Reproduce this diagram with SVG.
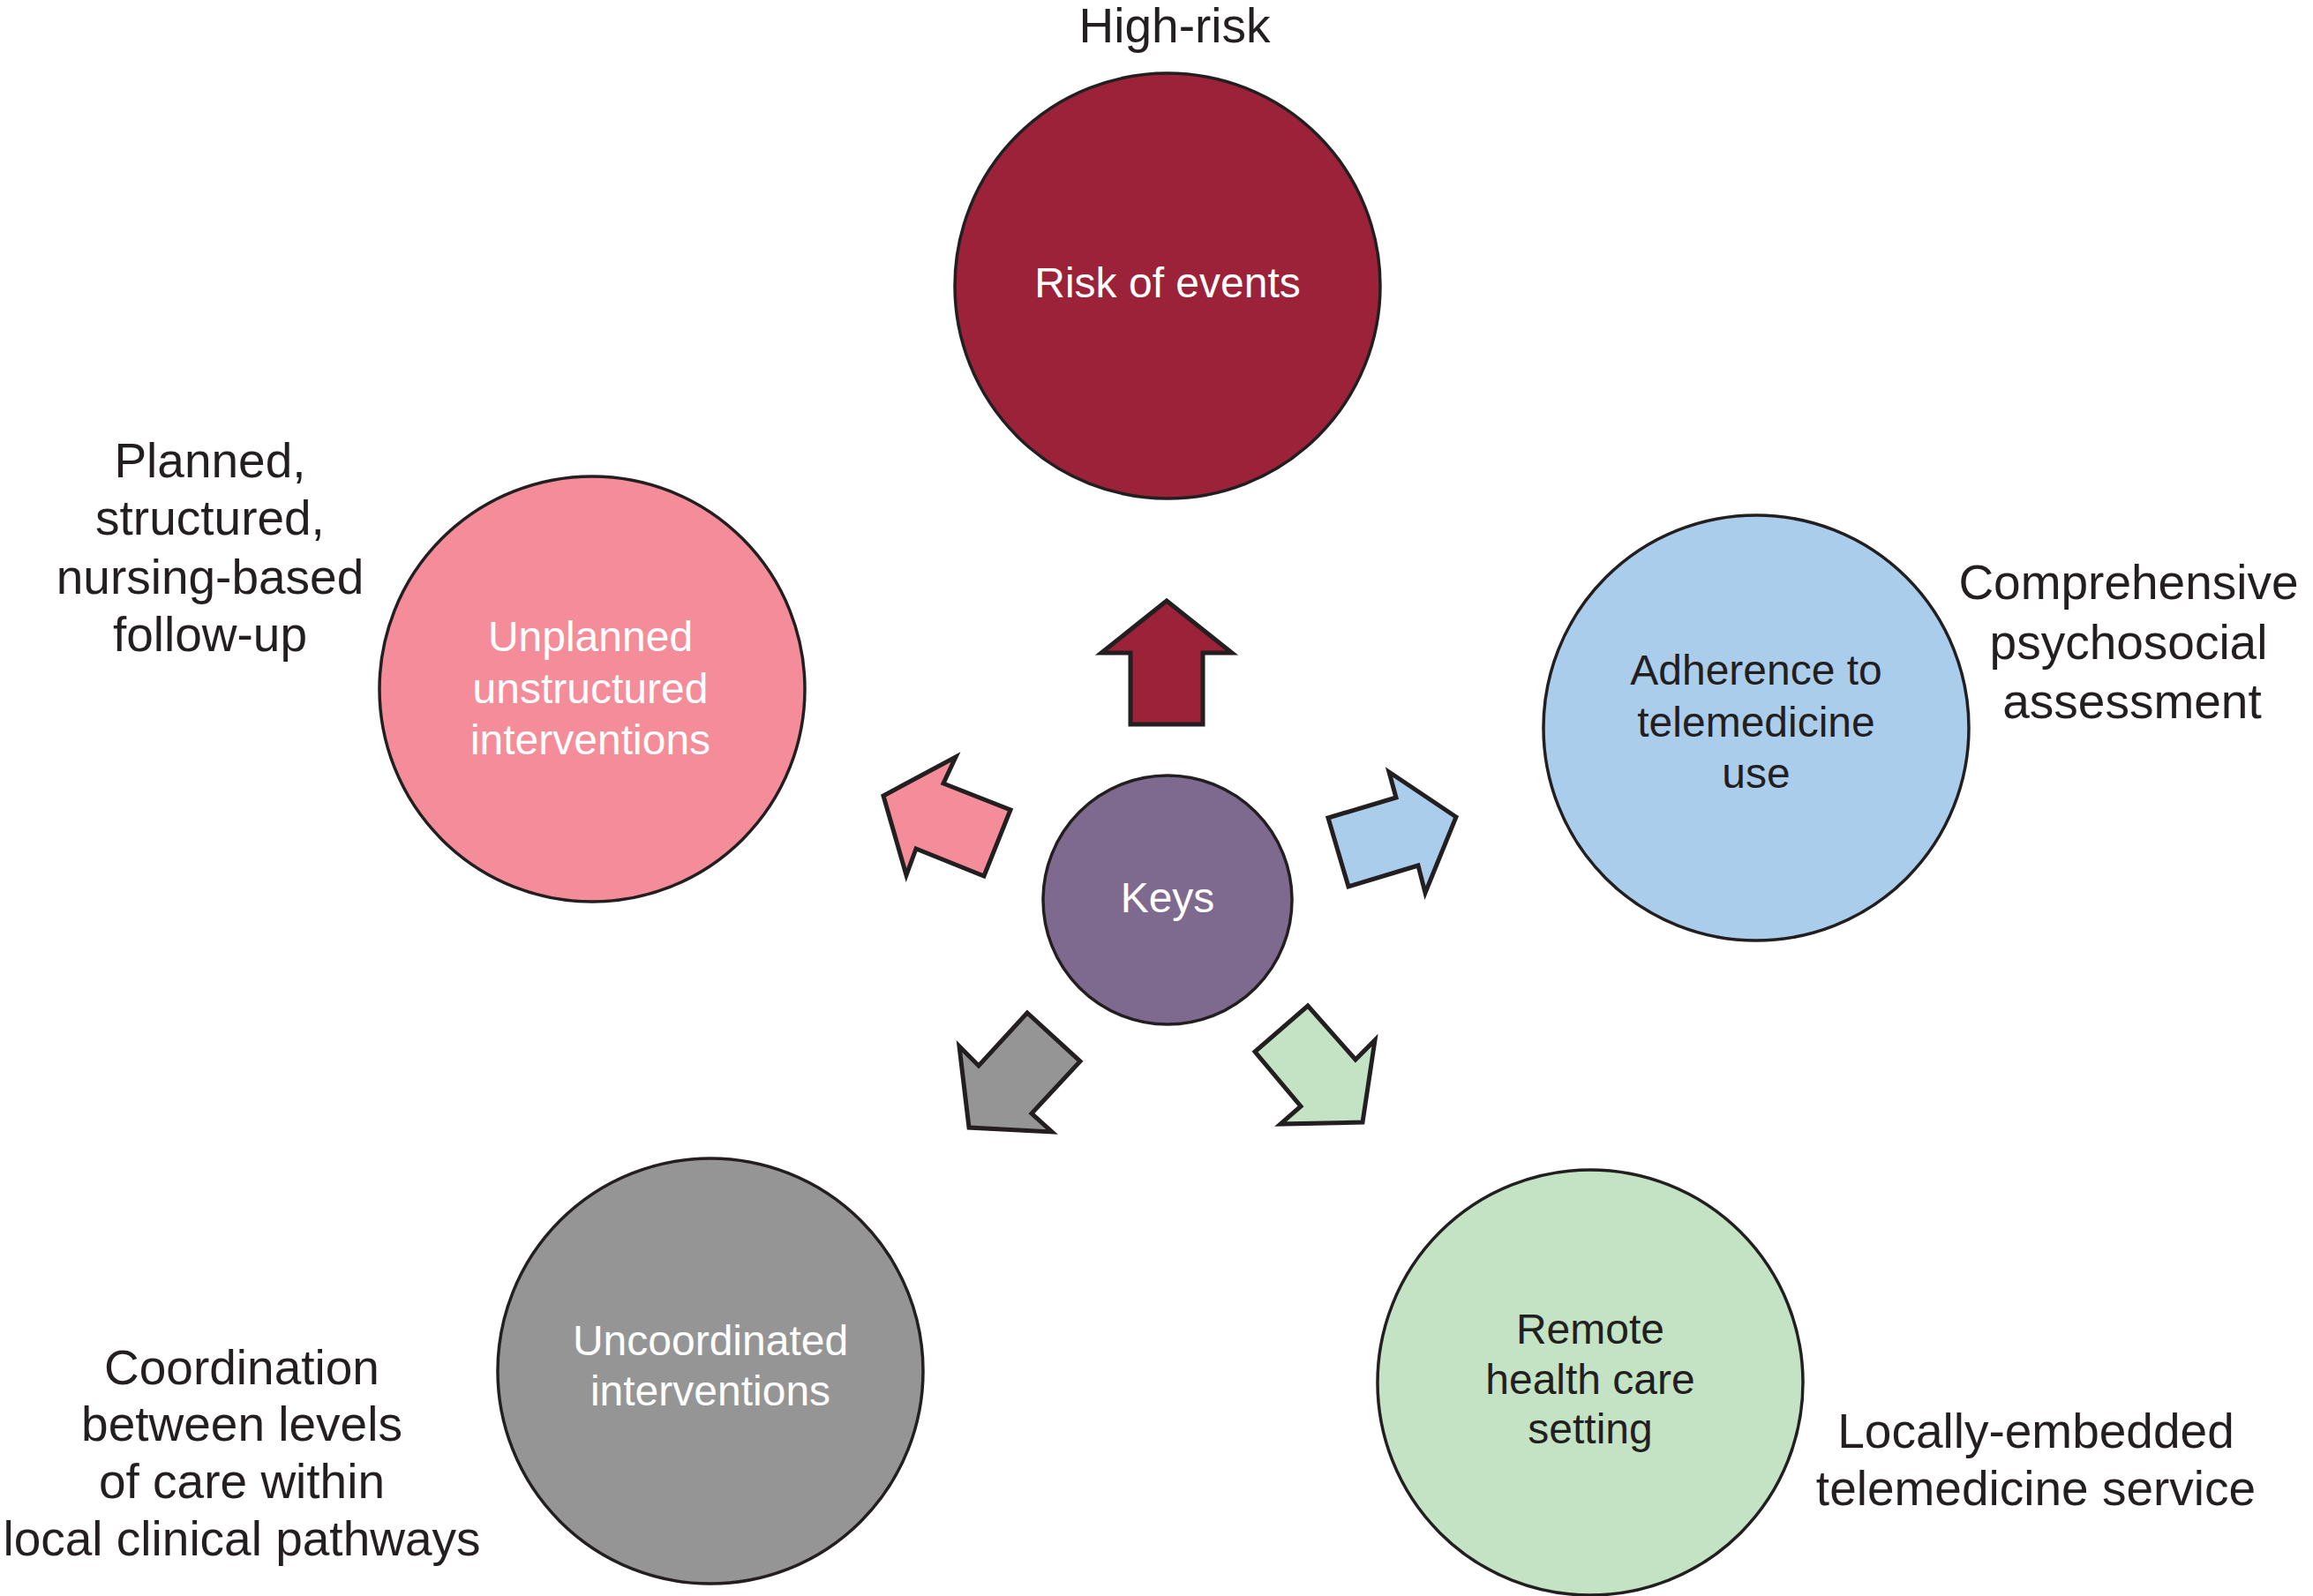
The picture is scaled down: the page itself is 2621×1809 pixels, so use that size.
<svg xmlns="http://www.w3.org/2000/svg" width="2621" height="1809" viewBox="0 0 2621 1809">
<style>
.c{stroke:#231f20;stroke-width:3.5}
.a{stroke:#231f20;stroke-width:5;stroke-linejoin:miter}
.t{font-family:"Liberation Sans",Arial,Helvetica,sans-serif;text-anchor:middle}
.in{font-size:48px}
.out{font-size:55px;fill:#231f20}
.w{fill:#ffffff}
.d{fill:#231f20}
</style>
<rect width="2621" height="1809" fill="#ffffff"/>
<g id="connectors">
<polygon class="a" fill="#9b2239" points="1322,681 1396,740 1363,740 1363,821 1281,821 1281,740 1248,740"/>
<polygon class="a" fill="#f48d99" points="1001,902 1083,858 1069,888 1145,918 1115,993 1038,962 1027,992"/>
<polygon class="a" fill="#abcdec" points="1650,926 1574,875 1582,904 1505,927 1528,1005 1607,981 1615,1012"/>
<polygon class="a" fill="#959595" points="1098,1278 1087,1186 1109,1208 1164,1148 1224,1203 1169,1262 1192,1283"/>
<polygon class="a" fill="#c3e3c4" points="1544,1272 1558,1179 1536,1201 1482,1140 1422,1192 1474,1254 1451,1274"/>
</g>
<g id="node-keys">
<circle class="c" cx="1323" cy="1020" r="141" fill="#7f6a8f"/>
<text class="t in w" x="1323" y="1034">Keys</text>
</g>
<g id="node-risk">
<text class="t out" x="1331" y="48">High-risk</text>
<circle class="c" cx="1323" cy="324" r="241" fill="#9b2239"/>
<text class="t in w" x="1323" y="337">Risk of events</text>
</g>
<g id="node-unplanned">
<text class="t out" x="238" y="541">Planned,</text>
<text class="t out" x="238" y="606">structured,</text>
<text class="t out" x="238" y="673">nursing-based</text>
<text class="t out" x="238" y="738">follow-up</text>
<circle class="c" cx="671" cy="781" r="241" fill="#f48d99"/>
<text class="t in w" x="669" y="738">Unplanned</text>
<text class="t in w" x="669" y="797">unstructured</text>
<text class="t in w" x="669" y="855">interventions</text>
</g>
<g id="node-adherence">
<circle class="c" cx="1990" cy="825" r="241" fill="#abcdec"/>
<text class="t in d" x="1990" y="776">Adherence to</text>
<text class="t in d" x="1990" y="835">telemedicine</text>
<text class="t in d" x="1990" y="893">use</text>
<text class="t out" x="2412" y="679">Comprehensive</text>
<text class="t out" x="2412" y="747">psychosocial</text>
<text class="t out" x="2416" y="814">assessment</text>
</g>
<g id="node-uncoordinated">
<circle class="c" cx="805" cy="1554" r="241" fill="#959595"/>
<text class="t in w" x="805" y="1536">Uncoordinated</text>
<text class="t in w" x="805" y="1593">interventions</text>
<text class="t out" x="274" y="1569">Coordination</text>
<text class="t out" x="274" y="1633">between levels</text>
<text class="t out" x="274" y="1698">of care within</text>
<text class="t out" x="274" y="1763">local clinical pathways</text>
</g>
<g id="node-remote">
<circle class="c" cx="1802" cy="1567" r="241" fill="#c3e3c4"/>
<text class="t in d" x="1802" y="1523">Remote</text>
<text class="t in d" x="1802" y="1580">health care</text>
<text class="t in d" x="1802" y="1636">setting</text>
<text class="t out" x="2307" y="1641">Locally-embedded</text>
<text class="t out" x="2307" y="1706">telemedicine service</text>
</g>
</svg>
